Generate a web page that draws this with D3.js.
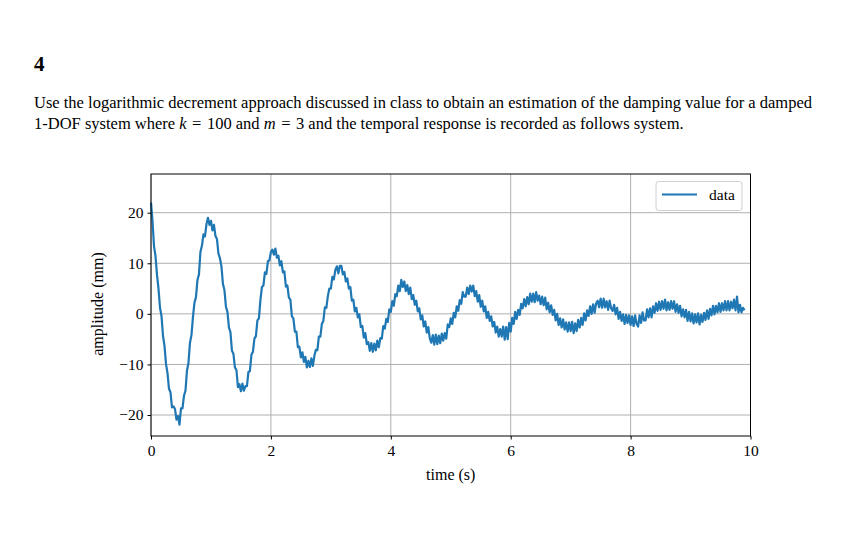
<!DOCTYPE html>
<html>
<head>
<meta charset="utf-8">
<script src="https://cdn.jsdelivr.net/npm/d3@7"></script>
<style>
  body { margin: 0; background: #fff; }
  text { font-family: "Liberation Serif", "Times New Roman", serif; fill: #000; }
</style>
</head>
<body>
<svg id="page" width="851" height="557"></svg>
<script>
var dt = 0.025
var amplitude = [
  22.0, 18.4, 13.4, 11.4, 7.7, 5.0, 1.2, -0.4, -4.3, -6.3,
  -9.9, -11.7, -14.8, -15.5, -18.5, -18.3, -18.8, -20.9, -20.2, -21.9,
  -18.7, -18.7, -16.2, -15.2, -11.2, -9.7, -5.7, -4.2, -0.6, 2.2,
  3.3, 6.7, 7.8, 12.3, 13.5, 15.7, 15.3, 17.7, 19.0, 17.6,
  18.4, 16.5, 17.6, 15.4, 14.8, 11.9, 11.0, 9.4, 5.9, 4.7,
  1.4, 0.4, -2.7, -3.6, -7.3, -7.9, -10.6, -11.1, -14.5, -13.9,
  -15.3, -13.8, -15.2, -14.3, -14.3, -11.5, -11.3, -8.1, -7.5, -4.9,
  -4.4, -1.3, -0.9, 2.7, 5.3, 5.6, 8.2, 7.9, 10.4, 10.6,
  12.2, 12.7, 11.7, 12.9, 11.1, 11.5, 9.6, 10.4, 8.2, 8.4,
  5.4, 5.6, 3.2, 2.8, -0.5, -0.9, -3.5, -3.5, -6.6, -6.5,
  -8.6, -7.6, -9.5, -8.5, -10.6, -9.3, -10.5, -8.8, -10.3, -8.3,
  -7.1, -7.2, -4.5, -4.5, -2.0, -1.4, 1.3, 1.2, 3.5, 5.0,
  5.0, 7.3, 6.8, 8.7, 9.4, 8.0, 9.5, 9.5, 7.8, 8.3,
  6.4, 7.0, 5.0, 5.3, 2.6, 2.8, 0.5, 1.2, -0.7, -0.1,
  -2.6, -2.4, -4.7, -3.8, -6.0, -5.6, -7.3, -5.8, -7.5, -5.9,
  -7.2, -5.3, -6.6, -4.8, -4.9, -2.4, -2.9, -1.0, -1.6, 0.9,
  0.4, 2.5, 1.6, 3.9, 3.5, 5.6, 4.5, 6.7, 5.3, 6.4,
  4.5, 5.7, 3.9, 5.2, 2.9, 3.7, 1.8, 2.6, 0.5, 1.1,
  -1.1, -0.3, -2.5, -1.5, -3.7, -2.6, -4.8, -5.7, -4.2, -6.1,
  -4.1, -6.0, -4.3, -5.8, -3.9, -5.3, -3.8, -4.9, -2.1, -2.6,
  -0.9, -2.0, 0.2, -0.7, 1.5, 0.6, 2.7, 2.0, 4.3, 3.4,
  3.4, 5.2, 3.9, 5.6, 4.4, 5.6, 3.5, 4.5, 2.4, 3.7,
  1.4, 2.6, 0.5, 1.5, -0.8, 0.4, -1.4, -0.5, -2.5, -1.6,
  -3.7, -2.5, -4.5, -3.0, -4.5, -2.5, -5.1, -2.6, -5.0, -1.8,
  -3.5, -0.8, -2.0, 0.4, -1.0, 0.8, -0.2, 2.0, 1.1, 2.9,
  1.5, 3.3, 1.9, 4.0, 2.4, 4.0, 2.3, 4.3, 2.6, 3.6,
  1.9, 3.4, 1.7, 3.2, 0.9, 2.2, 0.3, 1.7, -0.2, 0.8,
  -1.3, 0.0, -2.2, -0.9, -2.7, -1.1, -3.1, -1.7, -3.5, -1.7,
  -3.4, -1.6, -3.8, -1.9, -3.4, -1.2, -2.7, -0.8, -2.2, 0.1,
  -1.3, 0.7, -0.4, 1.5, 0.0, 1.9, 0.2, 2.1, 2.6, 1.3,
  3.0, 1.2, 3.0, 1.3, 2.5, 0.8, 2.6, 1.1, 0.6, 1.8,
  -0.1, 1.2, -1.0, 0.4, -1.4, -0.1, -2.0, -0.2, -1.8, -0.3,
  -2.2, -0.5, -2.4, -0.3, -2.0, -2.5, -0.3, -1.8, 0.3, -1.3,
  -1.3, 0.9, -0.7, 1.1, -0.7, 1.5, 0.2, 2.1, 0.6, 2.4,
  0.8, 2.5, 1.0, 2.8, 0.7, 2.3, 0.8, 2.5, 1.0, 2.5,
  0.4, 1.9, 0.2, 1.6, -0.5, 0.9, -0.7, 0.8, -1.4, 0.4,
  -1.5, 0.1, -1.9, -0.1, -1.7, 0.1, -2.1, -0.2, -1.6, 0.2,
  -1.2, 0.7, -1.0, 1.0, -0.3, 1.6, -0.1, 1.6, 0.3, 2.1,
  0.4, 2.1, 0.7, 2.5, 0.7, 2.5, 0.7, 2.4, 1.1, 2.8,
  0.7, 3.4, 0.3, 1.8, 0.3, 1.2, 0.7
]
var time = amplitude.map(function (d, i) { return i * dt })

var xTicks = [0, 2, 4, 6, 8, 10]
var yTicks = [-20, -10, 0, 10, 20]
var xDomain = [0, 10]
var yDomain = [-24.15, 27.65]

var svg = d3.select("#page")

// question text
svg.append("text")
    .attr("x", 34).attr("y", 71)
    .style("font-size", "21px").style("font-weight", "bold")
    .text("4")

var line1 = svg.append("text").attr("x", 34).attr("y", 108).style("font-size", "16.5px")
line1.text("Use the logarithmic decrement approach discussed in class to obtain an estimation of the damping value for a damped")

// math spacing around "=" is a bit wider than a normal space
var line2 = svg.append("text").attr("x", 34).attr("y", 129).style("font-size", "16.5px")
line2.append("tspan").text("1-DOF system where ")
line2.append("tspan").style("font-style", "italic").text("k")
line2.append("tspan").text("\u2004=\u2004100 and ")
line2.append("tspan").style("font-style", "italic").text("m")
line2.append("tspan").text("\u2004=\u20043 and the temporal response is recorded as follows system.")

// plot area (window.top is reserved, so prefixed names)
var plotLeft = 151, plotRight = 750.5, plotTop = 174, plotBottom = 436

var xScale = d3.scaleLinear().domain(xDomain).range([plotLeft, plotRight])
var yScale = d3.scaleLinear().domain(yDomain).range([plotBottom, plotTop])

// grid
svg.append("g").selectAll("line").data(xTicks).enter().append("line")
    .attr("x1", function (d) { return xScale(d) }).attr("x2", function (d) { return xScale(d) })
    .attr("y1", plotTop).attr("y2", plotBottom)
    .attr("stroke", "#b0b0b0").attr("stroke-width", 1)
svg.append("g").selectAll("line").data(yTicks).enter().append("line")
    .attr("y1", function (d) { return yScale(d) }).attr("y2", function (d) { return yScale(d) })
    .attr("x1", plotLeft).attr("x2", plotRight)
    .attr("stroke", "#b0b0b0").attr("stroke-width", 1)

// data line
var path = d3.line()
    .x(function (d, i) { return xScale(time[i]) })
    .y(function (d) { return yScale(d) })

svg.append("path")
    .datum(amplitude)
    .attr("d", path)
    .attr("fill", "none")
    .attr("stroke", "#1f77b4")
    .attr("stroke-width", 2.2)
    .attr("stroke-linejoin", "round")

// frame
svg.append("rect")
    .attr("x", plotLeft).attr("y", plotTop)
    .attr("width", plotRight - plotLeft).attr("height", plotBottom - plotTop)
    .attr("fill", "none").attr("stroke", "#000").attr("stroke-width", 1)

// axes
var xAxis = d3.axisBottom(xScale).tickValues(xTicks).tickSize(3.5).tickPadding(5)
    .tickFormat(d3.format("d"))
var yAxis = d3.axisLeft(yScale).tickValues(yTicks).tickSize(3.5).tickPadding(4)
    .tickFormat(function (d) { return d < 0 ? "\u2212" + Math.abs(d) : d })

var gx = svg.append("g").attr("transform", "translate(0," + plotBottom + ")").call(xAxis)
var gy = svg.append("g").attr("transform", "translate(" + plotLeft + ",0)").call(yAxis)
gx.select(".domain").remove()
gy.select(".domain").remove()
svg.selectAll(".tick line").attr("stroke", "#000")
svg.selectAll(".tick text")
    .style("font-family", "'Liberation Serif', 'Times New Roman', serif")
    .style("font-size", "15.5px")
    .attr("fill", "#000")

svg.append("text")
    .attr("x", (plotLeft + plotRight) / 2).attr("y", 480)
    .attr("text-anchor", "middle").style("font-size", "16px")
    .text("time (s)")

svg.append("text")
    .attr("transform", "translate(103," + ((plotTop + plotBottom) / 2 - 1) + ") rotate(-90)")
    .attr("text-anchor", "middle").style("font-size", "16px")
    .text("amplitude (mm)")

// legend
var legend = svg.append("g").attr("transform", "translate(656,181.5)")
legend.append("rect")
    .attr("width", 86).attr("height", 29).attr("rx", 2.5)
    .attr("fill", "#fff").attr("fill-opacity", 0.8)
    .attr("stroke", "#d0d0d0").attr("stroke-width", 1)
legend.append("line")
    .attr("x1", 6).attr("x2", 41).attr("y1", 13).attr("y2", 13)
    .attr("stroke", "#1f77b4").attr("stroke-width", 2.2)
legend.append("text")
    .attr("x", 53).attr("y", 18.5).style("font-size", "15.5px")
    .text("data")
</script>
</body>
</html>
